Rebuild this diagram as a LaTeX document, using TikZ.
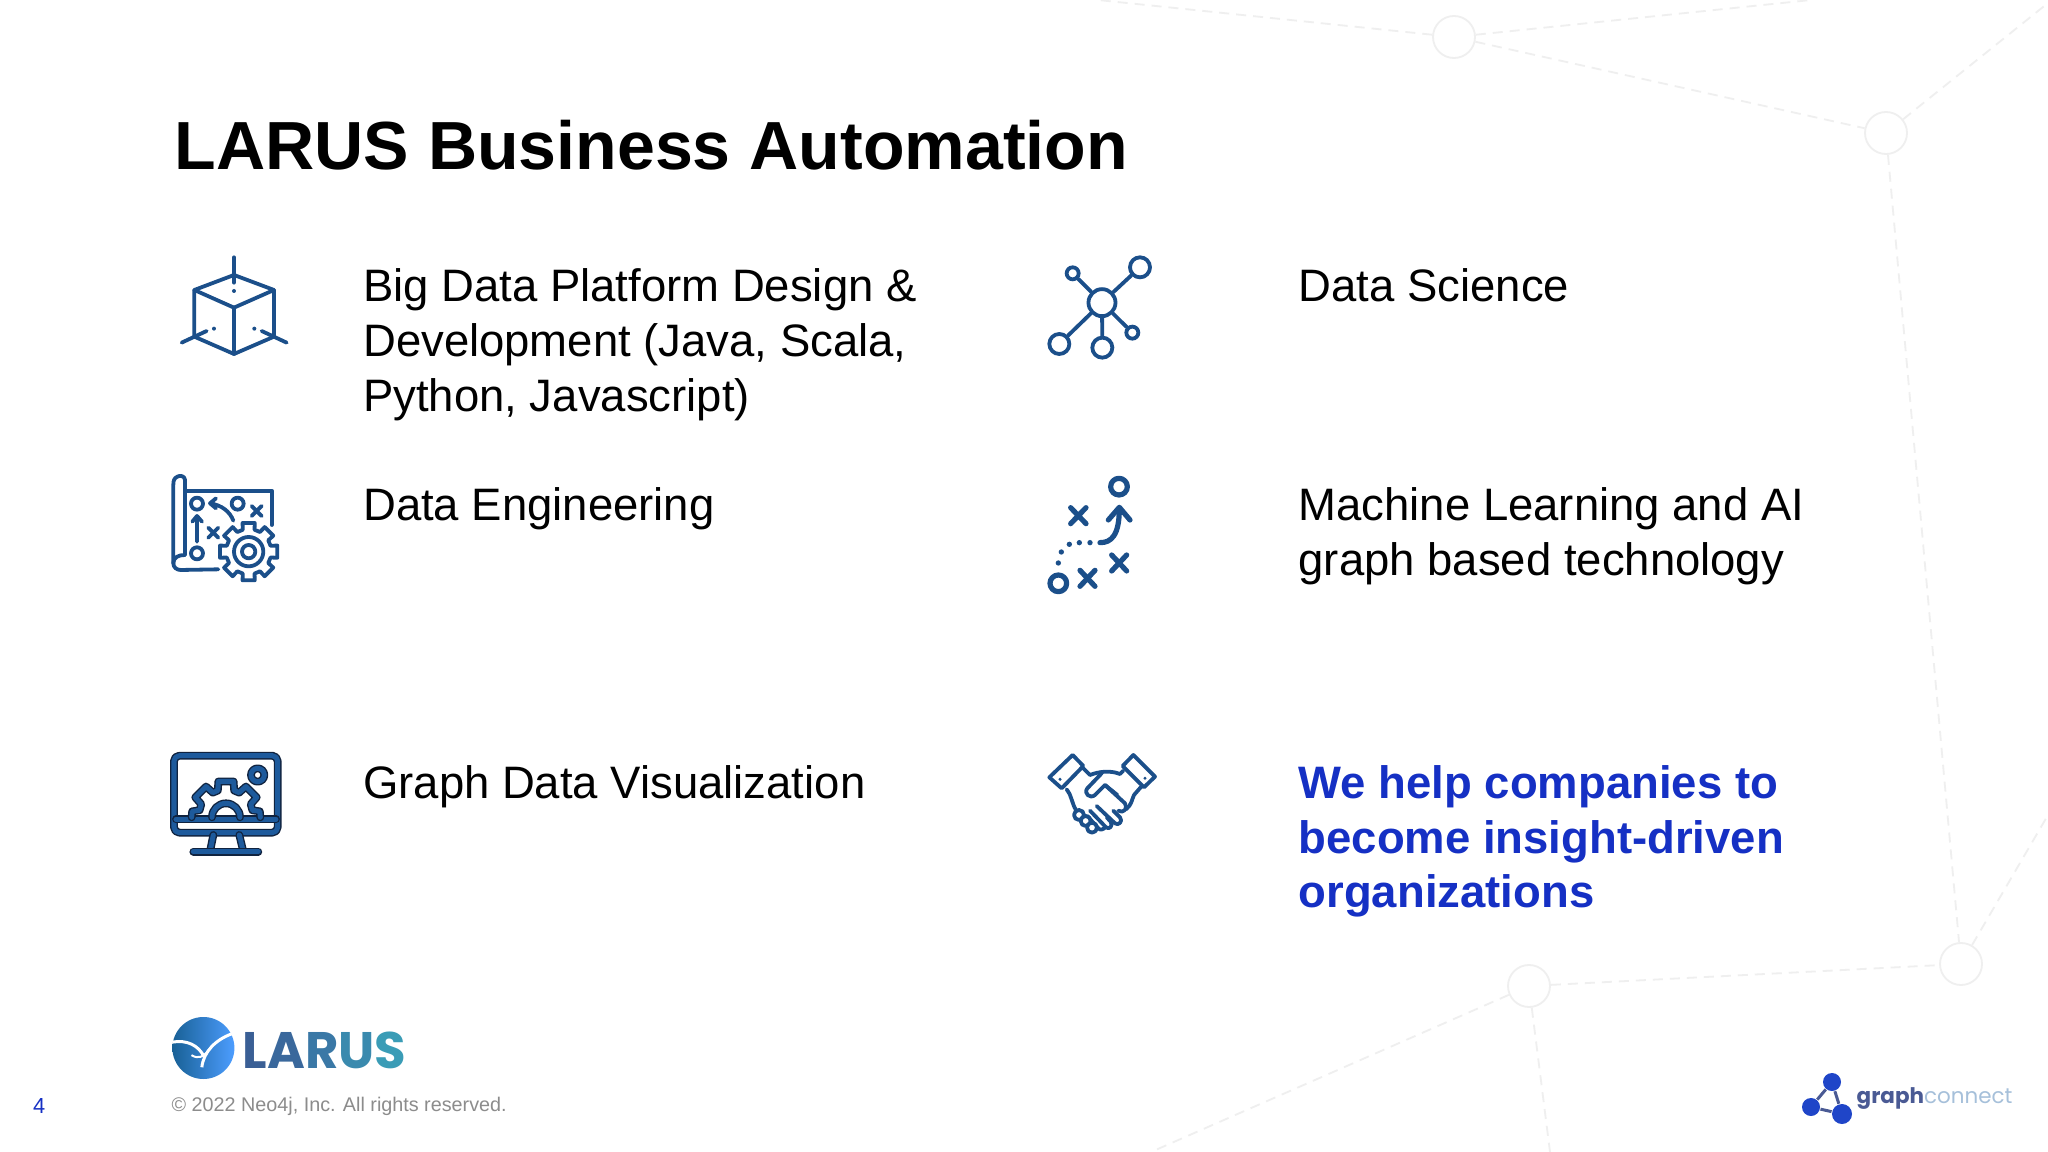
\documentclass[tikz,border=0pt]{standalone}
\usepackage{fontspec}
\usepackage{xcolor}
\usepackage{tikz}
\setmainfont{Liberation Sans}
\newfontfamily\logofont{Poppins}
\usetikzlibrary{arrows.meta}
\definecolor{iconblue}{HTML}{1B4F8A}
\definecolor{monoedge}{HTML}{10233F}
\definecolor{monoblue}{HTML}{1D5A9C}
\definecolor{slideblue}{HTML}{1530C4}
\definecolor{netgray}{HTML}{EFEFEF}
\definecolor{footgray}{HTML}{8C8C8C}
\definecolor{ballblue}{HTML}{1F45C8}
\definecolor{gcdark}{HTML}{4A5A94}
\definecolor{gclight}{HTML}{A6C0DA}
\definecolor{larusL}{HTML}{3A5F95}
\definecolor{larusA}{HTML}{3A689C}
\definecolor{larusR}{HTML}{3A78A6}
\definecolor{larusU}{HTML}{3A8AAE}
\definecolor{larusS}{HTML}{3A9CB6}
\tikzset{
    bodytext/.style={anchor=north west, inner sep=0pt, align=left, font=\fontsize{12.93}{15.6}\selectfont},
    netnode/.style={circle, draw=netgray, line width=0.018cm, fill=white, minimum size=0.42cm, inner sep=0pt},
    netline/.style={draw=netgray, line width=0.018cm, dashed, dash pattern=on 0.1cm off 0.07cm},
    iconline/.style={draw=iconblue, line width=0.038cm, line cap=round, line join=round},
    playline/.style={draw=iconblue, line width=0.052cm, line cap=round, line join=round},
    monoline/.style={draw=monoedge, double=monoblue, line width=0.014cm, double distance=0.05cm, line cap=round, line join=round},
    dsnode/.style={circle, draw=iconblue, line width=0.038cm, fill=white, inner sep=0pt},
    gcball/.style={circle, fill=ballblue, inner sep=0pt},
}
\newcommand{\cogoutline}[2]{(-15:#2) \foreach \a in {0,45,...,315} { -- (\a-15:#2) -- (\a-12:#1) -- (\a+12:#1) -- (\a+15:#2) } -- cycle}
\begin{document}
\begin{tikzpicture}[x=0.01cm, y=-0.01cm]
    \useasboundingbox (0,0) rectangle (2048,1152);
    \fill[white] (0,0) rectangle (2048,1152);

    % Background network
    \node[netnode] (netA) at (1454,37) {};
    \node[netnode] (netB) at (1886,133) {};
    \node[netnode] (netC) at (1529,986) {};
    \node[netnode] (netD) at (1961,964) {};
    \coordinate (freeA) at (1098,0);
    \coordinate (freeB) at (1811,0);
    \coordinate (freeC) at (2048,3);
    \coordinate (freeD) at (2048,815);
    \coordinate (freeE) at (1151,1152);
    \coordinate (freeF) at (1550,1152);
    \draw[netline] (netA) -- (freeA);
    \draw[netline] (netA) -- (freeB);
    \draw[netline] (netA) -- (netB);
    \draw[netline] (netB) -- (freeC);
    \draw[netline] (netB) -- (netD);
    \draw[netline] (netD) -- (freeD);
    \draw[netline] (netC) -- (netD);
    \draw[netline] (netC) -- (freeE);
    \draw[netline] (netC) -- (freeF);

    % Title
    \node[anchor=base west, inner sep=0pt, font=\fontsize{19.36}{23}\selectfont\bfseries] (title) at (174,170) {LARUS Business Automation};

    % Texts
    \node[bodytext] (platform) at (362.5,267.7) {Big Data Platform Design \&\\Development (Java, Scala,\\Python, Javascript)};
    \node[bodytext] (engineering) at (362.5,487) {Data Engineering};
    \node[bodytext] (visual) at (362.5,765) {Graph Data Visualization};
    \node[bodytext] (science) at (1298,267.7) {Data Science};
    \node[bodytext] (learning) at (1298,487) {Machine Learning and AI\\graph based technology};
    \node[bodytext, text=slideblue, font=\fontsize{12.93}{15.6}\selectfont\bfseries] (insight) at (1298,764.5) {We help companies to\\become insight-driven\\organizations};

    % Cube
    \begin{scope}[shift={(150,240)}, scale=0.3333]
        \draw[iconline] (252,52) -- (252,128);
        \draw[iconline] (133,150) -- (252,105) -- (372,150) -- (252,203) -- cycle;
        \draw[iconline] (133,150) -- (133,290) -- (252,342) -- (372,290) -- (372,150);
        \draw[iconline] (252,203) -- (252,342);
        \draw[iconline] (95,308) -- (170,273);
        \draw[iconline] (335,273) -- (410,308);
        \fill[iconblue] (252,153) circle (6) (192,266) circle (6) (313,266) circle (6);
    \end{scope}

    % Map and cog
    \begin{scope}[shift={(150,460)}, scale=0.3333]
        \draw[iconline] (105,92) -- (365,92) -- (365,195);
        \draw[iconline] (105,285) -- (105,60) .. controls (105,48) and (90,45) .. (82,50) .. controls (72,55) and (70,62) .. (70,75) -- (70,310) .. controls (70,322) and (80,330) .. (92,330) -- (205,328);
        \draw[iconline] (105,285) .. controls (85,285) and (70,292) .. (70,310);
        \draw[iconline] (141,131) circle (18);
        \draw[iconline] (141,280) circle (18);
        \draw[iconline] (263,131) circle (18);
        \draw[iconline] (141,245) -- (141,170) (127,185) -- (141,168) -- (156,185);
        \draw[iconline] (250,182) .. controls (240,155) and (215,135) .. (180,130) (198,115) -- (180,130) -- (198,145);
        \draw[iconline] (305,138) -- (335,168) (335,138) -- (305,168);
        \draw[iconline] (175,203) -- (205,233) (205,203) -- (175,233);
        \begin{scope}[shift={(296,275)}]
            \draw[iconline, fill=white] \cogoutline{88}{68};
            \draw[iconline] (0,0) circle (44);
            \draw[iconline] (0,0) circle (20);
        \end{scope}
    \end{scope}

    % Monitor
    \begin{scope}[shift={(150,740)}, scale=0.3333]
        \draw[monoline] (88,47) -- (367,47) arc[start angle=-90, end angle=0, radius=16] -- (383,262) arc[start angle=0, end angle=90, radius=16] -- (88,278) arc[start angle=90, end angle=180, radius=16] -- (72,63) arc[start angle=180, end angle=270, radius=16] -- cycle;
        \draw[monoline] (78,238) -- (378,238);
        \draw[monoline] (190,285) -- (180,335);
        \draw[monoline] (268,285) -- (280,335);
        \draw[monoline] (130,335) -- (325,335);
        \begin{scope}[shift={(228,232)}]
            \draw[monoline] (180:103) -- (-170:103) -- (-165:82) \foreach \a in {-135,-90,-45} { -- (\a-17:84) -- (\a-12:110) -- (\a+12:110) -- (\a+17:84) } -- (-15:82) -- (-10:103) -- (0:103);
            \draw[monoline] (180:42) arc[start angle=180, end angle=360, radius=42];
        \end{scope}
        \draw[monoline] (323,105) circle (20);
    \end{scope}

    % Graph icon
    \begin{scope}[shift={(1030,240)}, scale=0.3333]
        \node[dsnode, minimum size=0.27cm] (dsHub) at (216,188) {};
        \node[dsnode, minimum size=0.2cm] (dsTopRight) at (330,82) {};
        \node[dsnode, minimum size=0.2cm] (dsBotLeft) at (88,312) {};
        \node[dsnode, minimum size=0.2cm] (dsBot) at (217,323) {};
        \node[dsnode, minimum size=0.12cm] (dsTopLeft) at (128,100) {};
        \node[dsnode, minimum size=0.12cm] (dsBotRight) at (307,278) {};
        \draw[iconline] (dsHub) -- (dsTopRight);
        \draw[iconline] (dsHub) -- (dsBotLeft);
        \draw[iconline] (dsHub) -- (dsBot);
        \draw[iconline] (dsHub) -- (dsTopLeft);
        \draw[iconline] (dsHub) -- (dsBotRight);
    \end{scope}

    % Playbook
    \begin{scope}[shift={(1030,465)}, scale=0.3333]
        \draw[playline] (267,65) circle (25);
        \draw[playline] (85,355) circle (25);
        \draw[playline] (122,128) -- (168,176) (168,128) -- (122,176);
        \draw[playline] (150,316) -- (195,364) (195,316) -- (150,364);
        \draw[playline] (245,270) -- (290,318) (290,270) -- (245,318);
        \draw[playline] (210,233) .. controls (245,233) and (268,210) .. (268,130);
        \draw[playline] (235,165) -- (268,127) -- (300,165);
        \fill[iconblue] (180,233) circle (8) (148,233) circle (8) (118,238) circle (8) (94,261) circle (8) (85,294) circle (8);
    \end{scope}

    % Handshake
    \begin{scope}[shift={(1030,740)}, scale=0.3333]
        \draw[iconline] (128,45) -- (160,78) -- (95,145) -- (58,112) -- cycle;
        \draw[iconline] (310,45) -- (278,78) -- (342,142) -- (375,110) -- cycle;
        \fill[iconblue] (90,118) circle (5) (345,115) circle (5);
        \draw[iconline] (160,85) -- (180,105) .. controls (205,95) and (240,90) .. (270,102) -- (280,92);
        \draw[iconline] (215,100) -- (172,145) .. controls (160,160) and (180,178) .. (195,165) -- (225,135) -- (285,190) .. controls (295,205) and (280,222) .. (265,212);
        \draw[iconline] (332,142) -- (312,165) .. controls (305,180) and (305,195) .. (288,208);
        \draw[iconline] (110,148) .. controls (125,165) and (125,190) .. (138,210);
        \draw[iconline] (225,135) -- (262,165);
        \draw[iconline] (200,198) -- (255,250) .. controls (265,258) and (280,245) .. (270,232) -- (250,212);
        \draw[iconline] (180,212) -- (228,262) .. controls (238,270) and (250,258) .. (242,245) -- (230,232);
        \draw[iconline] (172,228) -- (205,265) .. controls (210,272) and (222,268) .. (225,262);
        \draw[iconline, fill=white] (147,225) circle (15);
        \draw[iconline, fill=white] (167,243) circle (15);
        \draw[iconline, fill=white] (186,263) circle (15);
    \end{scope}

    % LARUS logo
    \shade[left color=iconblue!90!cyan, right color=cyan!45!blue!70!white] (203.4,1048) circle (31);
    \begin{scope}[shift={(0,1000)}, scale=0.345]
        \draw[white, line width=0.03cm] (500,122) .. controls (540,115) and (575,130) .. (592,165);
        \draw[white, line width=0.03cm] (672,98) .. controls (625,115) and (590,150) .. (585,195);
        \draw[white, line width=0.02cm] (555,160) .. controls (575,172) and (590,165) .. (605,145);
    \end{scope}
    \node[anchor=base west, inner sep=0pt, font=\fontsize{14.6}{16}\logofont\bfseries] (larus) at (242,1068) {\textcolor{larusL}{L}\textcolor{larusA}{A}\textcolor{larusR}{R}\textcolor{larusU}{U}\textcolor{larusS}{S}};

    % Footer
    \node[anchor=base west, inner sep=0pt, text=slideblue, font=\fontsize{6.2}{7}\selectfont] (pagenum) at (32.5,1113) {4};
    \node[anchor=base west, inner sep=0pt, text=footgray, font=\fontsize{5.62}{7}\selectfont] (copyright) at (171,1111) {© 2022 Neo4j, Inc. All rights reserved.};

    % graphconnect logo
    \node[gcball, minimum size=0.18cm] (gcTop) at (1832,1082) {};
    \node[gcball, minimum size=0.18cm] (gcLeft) at (1811,1107) {};
    \node[gcball, minimum size=0.2cm] (gcRight) at (1842,1114) {};
    \draw[gcdark, line width=0.03cm] (gcTop) -- (gcLeft);
    \draw[gcdark, line width=0.03cm] (gcLeft) -- (gcRight);
    \draw[gcdark, line width=0.03cm] (gcRight) -- (gcTop);
    \node[anchor=base west, inner sep=0pt, font=\fontsize{6.1}{8}\logofont] (gcname) at (1856,1103) {\textcolor{gcdark}{\bfseries graph}\textcolor{gclight}{connect}};
\end{tikzpicture}
\end{document}
